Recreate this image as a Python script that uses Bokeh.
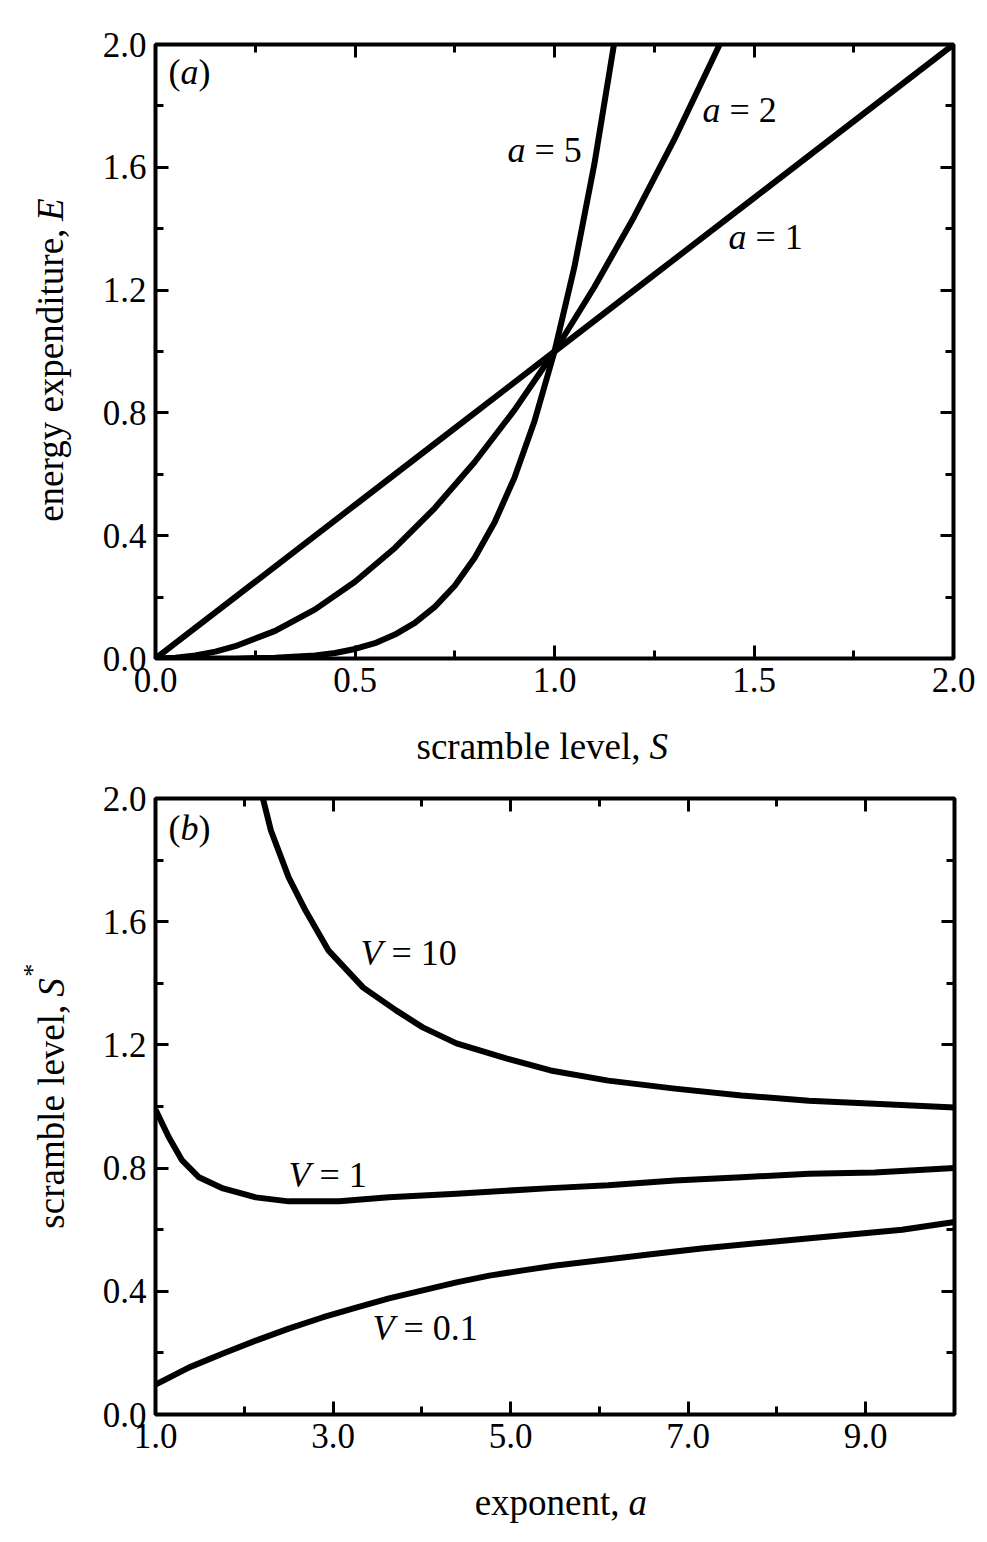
import math
from bokeh.plotting import figure
from bokeh.models import Range1d, FixedTicker, LinearAxis, Label, NumeralTickFormatter
from bokeh.layouts import column, row
from bokeh.embed import file_html
from bokeh.resources import INLINE

FONT = "Liberation Serif"

# ---------------- data: panel (a) energy expenditure vs scramble level ----------------
S_a1 = [0.0, 0.25, 0.5, 0.75, 1.0, 1.25, 1.5, 1.75, 2.0]
E_a1 = [0.0, 0.25, 0.5, 0.75, 1.0, 1.25, 1.5, 1.75, 2.0]

S_a2 = [0.0, 0.05, 0.1, 0.15, 0.2, 0.3, 0.4, 0.5, 0.6, 0.7, 0.8, 0.9, 1.0, 1.1, 1.2, 1.3, 1.414]
E_a2 = [0.0, 0.0025, 0.01, 0.0225, 0.04, 0.09, 0.16, 0.25, 0.36, 0.49, 0.64, 0.81, 1.0, 1.21, 1.44, 1.69, 2.0]

S_a5 = [0.0, 0.2, 0.3, 0.4, 0.45, 0.5, 0.55, 0.6, 0.65, 0.7, 0.75, 0.8, 0.85, 0.9, 0.95, 1.0, 1.05, 1.1, 1.149]
E_a5 = [0.0, 0.0003, 0.0024, 0.01, 0.018, 0.031, 0.05, 0.078, 0.116, 0.168, 0.237, 0.328, 0.444, 0.59, 0.774, 1.0, 1.276, 1.611, 2.0]

# ---------------- data: panel (b) optimal scramble level vs exponent ----------------
a_V10 = [2.21, 2.30, 2.50, 2.69, 2.95, 3.34, 3.71, 4.01, 4.39, 4.95, 5.45, 6.10, 6.85, 7.60, 8.36, 9.10, 10.0]
S_V10 = [2.0, 1.896, 1.744, 1.636, 1.506, 1.386, 1.312, 1.257, 1.205, 1.156, 1.117, 1.084, 1.058, 1.036, 1.019, 1.009, 0.997]

a_V1 = [1.0, 1.15, 1.30, 1.49, 1.76, 2.13, 2.50, 3.07, 3.63, 4.39, 5.45, 6.10, 6.85, 7.60, 8.36, 9.10, 10.0]
S_V1 = [0.99, 0.90, 0.825, 0.77, 0.734, 0.705, 0.692, 0.692, 0.705, 0.717, 0.735, 0.744, 0.760, 0.770, 0.782, 0.786, 0.80]

a_V01 = [1.0, 1.38, 1.76, 2.13, 2.50, 2.88, 3.26, 3.63, 4.01, 4.39, 4.76, 5.14, 5.51, 6.58, 7.15, 8.28, 9.41, 10.0]
S_V01 = [0.097, 0.153, 0.198, 0.240, 0.279, 0.315, 0.347, 0.377, 0.403, 0.429, 0.451, 0.468, 0.484, 0.52, 0.539, 0.570, 0.600, 0.625]

# tick values
xa_major = [0.0, 0.5, 1.0, 1.5, 2.0]
xa_minor = [0.25, 0.75, 1.25, 1.75]
y_major = [0.0, 0.4, 0.8, 1.2, 1.6, 2.0]
y_minor = [0.2, 0.6, 1.0, 1.4, 1.8]
xb_major = [1.0, 3.0, 5.0, 7.0, 9.0]
xb_minor = [2.0, 4.0, 6.0, 8.0, 10.0]

W = 987
YLAB_W = 90
LINE_W = 6
DY = 11  # text baseline correction (screen px)


def style_axis(ax, major, minor, show_labels):
    ax.ticker = FixedTicker(ticks=major, minor_ticks=minor)
    ax.formatter = NumeralTickFormatter(format="0.0")
    ax.axis_line_color = None
    ax.major_tick_in = 13
    ax.major_tick_out = 0
    ax.minor_tick_in = 8
    ax.minor_tick_out = 0
    ax.major_tick_line_width = 3
    ax.minor_tick_line_width = 3
    ax.major_tick_line_color = "black"
    ax.minor_tick_line_color = "black"
    ax.major_label_text_font = FONT
    if show_labels:
        ax.major_label_text_font_size = "35px"
        ax.major_label_text_color = "black"
        ax.major_label_standoff = 9
    else:
        ax.major_label_text_font_size = "1px"
        ax.major_label_text_color = None
        ax.major_label_standoff = 0


def make_panel(width, height, xr, yr, top, bottom, left, right, xmaj, xmin):
    p = figure(width=width, height=height, x_range=Range1d(*xr), y_range=Range1d(*yr),
               output_backend="svg", toolbar_location=None,
               min_border_top=top, min_border_bottom=bottom,
               min_border_left=left, min_border_right=right)
    p.xgrid.visible = False
    p.ygrid.visible = False
    p.outline_line_color = "black"
    p.outline_line_width = 4
    p.background_fill_color = "white"
    p.border_fill_color = "white"
    style_axis(p.xaxis[0], xmaj, xmin, True)
    style_axis(p.yaxis[0], y_major, y_minor, True)
    top_ax = LinearAxis()
    right_ax = LinearAxis()
    style_axis(top_ax, xmaj, xmin, False)
    style_axis(right_ax, y_major, y_minor, False)
    p.add_layout(top_ax, "above")
    p.add_layout(right_ax, "right")
    return p


def make_blank(width, height):
    p = figure(width=width, height=height, x_range=Range1d(0, width), y_range=Range1d(0, height),
               x_axis_type=None, y_axis_type=None, output_backend="svg", toolbar_location=None,
               min_border=0, min_border_left=0, min_border_right=0, min_border_top=0,
               min_border_bottom=0)
    p.xgrid.visible = False
    p.ygrid.visible = False
    p.outline_line_color = None
    p.background_fill_color = "white"
    p.border_fill_color = "white"
    return p


def add_text(p, conv, px, py, text, italic=False, size=36, align="left", angle=0.0):
    if angle == 0.0:
        py = py - DY
    else:
        px = px - DY
    x, y = conv(px, py)
    p.add_layout(Label(x=x, y=y, text=text, text_font=FONT, text_font_size=f"{size}px",
                       text_font_style="italic" if italic else "normal",
                       text_align=align, text_baseline="alphabetic", angle=angle,
                       text_color="black"))


def blank_conv(ox, oy, h):
    # absolute page pixel -> data coords of a blank figure placed at (ox, oy)
    return lambda px, py: (px - ox, h - (py - oy))


# pixel frames (absolute page coordinates, as measured in the reference)
A_L, A_R, A_T, A_B = 155, 953, 44, 658
B_L, B_R, B_T, B_B = 155, 954, 798, 1414


def conv_a(px, py):
    return ((px - A_L) / (A_R - A_L) * 2.0, (A_B - py) / (A_B - A_T) * 2.0)


def conv_b(px, py):
    return (1.0 + (px - B_L) / (B_R - B_L) * 9.0, (B_B - py) / (B_B - B_T) * 2.0)


# ---------------- layout sizes ----------------
ROW_A_H = 720
XLAB_A_H = 771 - ROW_A_H
ROW_B_TOP = 771
ROW_B_H = 705
XLAB_B_TOP = ROW_B_TOP + ROW_B_H
XLAB_B_H = 1542 - XLAB_B_TOP
PW = W - YLAB_W

# ---------------- panel (a) ----------------
p1 = make_panel(PW, ROW_A_H, (0, 2), (0, 2), A_T, ROW_A_H - A_B, A_L - YLAB_W, W - A_R,
                xa_major, xa_minor)
for xs, ys in [(S_a1, E_a1), (S_a2, E_a2), (S_a5, E_a5)]:
    p1.line(xs, ys, line_width=LINE_W, line_color="black", line_join="round")

add_text(p1, conv_a, 168, 82, "(")
add_text(p1, conv_a, 180, 82, "a", italic=True)
add_text(p1, conv_a, 198, 82, ")")
for px, py, num in [(507, 160, "5"), (702, 120, "2"), (728, 247, "1")]:
    add_text(p1, conv_a, px, py, "a", italic=True)
    add_text(p1, conv_a, px + 18, py, "\u00a0=\u00a0" + num)

ylab_a = make_blank(YLAB_W, ROW_A_H)
cv = blank_conv(0, 0, ROW_A_H)
add_text(ylab_a, cv, 61, 216, "energy expenditure,", size=37, align="right", angle=math.pi / 2)
add_text(ylab_a, cv, 61, 207, "E", italic=True, size=37, angle=math.pi / 2)

xlab_a = make_blank(W, XLAB_A_H)
cv = blank_conv(0, ROW_A_H, XLAB_A_H)
add_text(xlab_a, cv, 640, 757, "scramble level,", size=37, align="right")
add_text(xlab_a, cv, 649, 757, "S", italic=True, size=37)

# ---------------- panel (b) ----------------
p2 = make_panel(PW, ROW_B_H, (1, 10), (0, 2), B_T - ROW_B_TOP, ROW_B_TOP + ROW_B_H - B_B,
                B_L - YLAB_W, W - B_R, xb_major, xb_minor)
for xs, ys in [(a_V10, S_V10), (a_V1, S_V1), (a_V01, S_V01)]:
    p2.line(xs, ys, line_width=LINE_W, line_color="black", line_join="round")

add_text(p2, conv_b, 168, 838, "(")
add_text(p2, conv_b, 180, 838, "b", italic=True)
add_text(p2, conv_b, 198, 838, ")")
for px, py, num in [(360, 963, "10"), (288, 1185, "1"), (372, 1338, "0.1")]:
    add_text(p2, conv_b, px, py, "V", italic=True)
    add_text(p2, conv_b, px + 22, py, "\u00a0=\u00a0" + num)

ylab_b = make_blank(YLAB_W, ROW_B_H)
cv = blank_conv(0, ROW_B_TOP, ROW_B_H)
add_text(ylab_b, cv, 62, 1007, "scramble level,", size=37, align="right", angle=math.pi / 2)
add_text(ylab_b, cv, 62, 998, "S", italic=True, size=37, angle=math.pi / 2)
add_text(ylab_b, cv, 43, 975, "*", size=26, angle=math.pi / 2)

xlab_b = make_blank(W, XLAB_B_H)
cv = blank_conv(0, XLAB_B_TOP, XLAB_B_H)
add_text(xlab_b, cv, 619, 1513, "exponent,", size=37, align="right")
add_text(xlab_b, cv, 628, 1513, "a", italic=True, size=37)

layout = column(row(ylab_a, p1, spacing=0), xlab_a, row(ylab_b, p2, spacing=0), xlab_b, spacing=0)
open("out.html", "w").write(file_html(layout, INLINE))
